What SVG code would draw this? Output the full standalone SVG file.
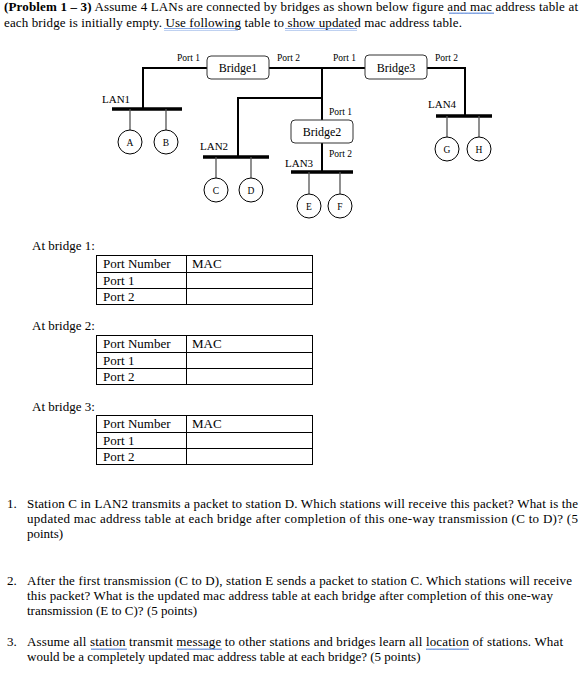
<svg xmlns="http://www.w3.org/2000/svg" width="584" height="675" viewBox="0 0 584 675" font-family="'Liberation Serif', 'DejaVu Serif', serif">
<style>
text{font-family:'Liberation Serif','DejaVu Serif',serif;fill:#000}
.t{font-size:13px}
.b{font-weight:bold}
.lbl{font-size:11px}
.prt{font-size:9.5px}
.br{font-size:12px}
.st{font-size:9.5px}
.wire{stroke:#000;stroke-width:2;fill:none}
.bus{stroke:#000;stroke-width:3.5;fill:none}
.stem{stroke:#555;stroke-width:1.3;fill:none}
.node{fill:#fff;stroke:#000;stroke-width:1}
.box{fill:#fff;stroke:#333;stroke-width:1}
.grid{stroke:#000;stroke-width:1;fill:none}
.wavy{stroke:#4a7bd6;stroke-width:0.8;fill:none}
</style>
<defs>
<pattern id="wv" width="4" height="3" patternUnits="userSpaceOnUse"><path d="M0 2 L1 0.5 L2 2 L3 0.5 L4 2" class="wavy"/></pattern>
</defs>
<rect width="584" height="675" fill="#fff"/>

<g id="title">
<text class="t" x="4" y="11" textLength="574" lengthAdjust="spacing"><tspan class="b">(Problem 1 – 3)</tspan> Assume 4 LANs are connected by bridges as shown below figure and mac address table at</text>
<text class="t" x="4" y="27" textLength="458" lengthAdjust="spacing">each bridge is initially empty. Use following table to show updated mac address table.</text>
<rect x="449" y="12" width="45" height="3" fill="url(#wv)"/>
<rect x="164" y="28" width="74" height="3" fill="url(#wv)"/>
<rect x="285" y="28" width="72" height="3" fill="url(#wv)"/>
</g>

<g id="connectors">
<path class="wire" d="M143 109 V68 H207 M269 68 H365 M427 68 H465 V116 M322 68 V120 M322 143 V172 M238 157 V98 H322"/>
<path class="bus" d="M112 109 H182 M203 157 H269 M291 172 H353 M436 116 H492"/>
<path class="stem" d="M130 109 V130 M166 109 V130 M216 157 V178 M251 157 V178 M309 172 V194 M340 172 V194 M447 116 V137 M479 116 V137"/>
</g>

<g id="bridge1">
<rect class="box" x="207" y="56" width="62" height="23" rx="4"/>
<text class="br" x="238" y="72" text-anchor="middle">Bridge1</text>
<text class="prt" x="177" y="61">Port 1</text>
<text class="prt" x="277" y="61">Port 2</text>
</g>
<g id="bridge3">
<rect class="box" x="365" y="55" width="62" height="24" rx="4"/>
<text class="br" x="396" y="72" text-anchor="middle">Bridge3</text>
<text class="prt" x="333" y="61">Port 1</text>
<text class="prt" x="435" y="61">Port 2</text>
</g>
<g id="bridge2">
<rect class="box" x="291" y="120" width="62" height="23" rx="4"/>
<text class="br" x="322" y="136" text-anchor="middle">Bridge2</text>
<text class="prt" x="329" y="115">Port 1</text>
<text class="prt" x="329" y="157">Port 2</text>
</g>

<g id="lan1"><text class="lbl" x="102" y="103">LAN1</text></g>
<g id="lan2"><text class="lbl" x="200" y="150">LAN2</text></g>
<g id="lan3"><text class="lbl" x="285" y="167">LAN3</text></g>
<g id="lan4"><text class="lbl" x="428" y="108">LAN4</text></g>

<g id="stA"><circle class="node" cx="130" cy="142" r="12"/><text class="st" x="130" y="145.5" text-anchor="middle">A</text></g>
<g id="stB"><circle class="node" cx="166" cy="142" r="12"/><text class="st" x="166" y="145.5" text-anchor="middle">B</text></g>
<g id="stC"><circle class="node" cx="216" cy="190" r="12"/><text class="st" x="216" y="193.5" text-anchor="middle">C</text></g>
<g id="stD"><circle class="node" cx="251" cy="190" r="12"/><text class="st" x="251" y="193.5" text-anchor="middle">D</text></g>
<g id="stE"><circle class="node" cx="309" cy="206" r="12"/><text class="st" x="309" y="209.5" text-anchor="middle">E</text></g>
<g id="stF"><circle class="node" cx="340" cy="206" r="12"/><text class="st" x="340" y="209.5" text-anchor="middle">F</text></g>
<g id="stG"><circle class="node" cx="447" cy="149" r="12"/><text class="st" x="447" y="152.5" text-anchor="middle">G</text></g>
<g id="stH"><circle class="node" cx="479" cy="149" r="12"/><text class="st" x="479" y="152.5" text-anchor="middle">H</text></g>

<g id="table1">
<text class="t" x="32" y="250">At bridge 1:</text>
<rect class="grid" x="96.5" y="255.5" width="216" height="49"/>
<path class="grid" d="M96.5 272.5 H312.5 M96.5 288.5 H312.5 M186.5 255.5 V304.5"/>
<text class="t" x="103" y="268">Port Number</text>
<text class="t" x="192" y="268">MAC</text>
<text class="t" x="103" y="284.5">Port 1</text>
<text class="t" x="103" y="300.5">Port 2</text>
</g>
<g id="table2">
<text class="t" x="32" y="330">At bridge 2:</text>
<rect class="grid" x="96.5" y="335.5" width="216" height="49"/>
<path class="grid" d="M96.5 352.5 H312.5 M96.5 368.5 H312.5 M186.5 335.5 V384.5"/>
<text class="t" x="103" y="348">Port Number</text>
<text class="t" x="192" y="348">MAC</text>
<text class="t" x="103" y="364.5">Port 1</text>
<text class="t" x="103" y="380.5">Port 2</text>
</g>
<g id="table3">
<text class="t" x="32" y="411">At bridge 3:</text>
<rect class="grid" x="96.5" y="415.5" width="216" height="49"/>
<path class="grid" d="M96.5 432.5 H312.5 M96.5 448.5 H312.5 M186.5 415.5 V464.5"/>
<text class="t" x="103" y="428">Port Number</text>
<text class="t" x="192" y="428">MAC</text>
<text class="t" x="103" y="444.5">Port 1</text>
<text class="t" x="103" y="460.5">Port 2</text>
</g>

<g id="questions">
<text class="t" x="7" y="508">1.</text>
<text class="t" x="27" y="508" textLength="551" lengthAdjust="spacing">Station C in LAN2 transmits a packet to station D. Which stations will receive this packet? What is the</text>
<text class="t" x="27" y="523" textLength="551" lengthAdjust="spacing">updated mac address table at each bridge after completion of this one-way transmission (C to D)? (5</text>
<text class="t" x="27" y="538">points)</text>
<text class="t" x="7" y="585">2.</text>
<text class="t" x="27" y="585" textLength="545" lengthAdjust="spacing">After the first transmission (C to D), station E sends a packet to station C. Which stations will receive</text>
<text class="t" x="27" y="600" textLength="526" lengthAdjust="spacing">this packet? What is the updated mac address table at each bridge after completion of this one-way</text>
<text class="t" x="27" y="615">transmission (E to C)? (5 points)</text>
<text class="t" x="7" y="646">3.</text>
<text class="t" x="27" y="646" textLength="536" lengthAdjust="spacing">Assume all station transmit message to other stations and bridges learn all location of stations. What</text>
<text class="t" x="27" y="661">would be a completely updated mac address table at each bridge? (5 points)</text>
<rect x="91" y="647" width="36" height="3" fill="url(#wv)"/>
<rect x="177" y="647" width="45" height="3" fill="url(#wv)"/>
<rect x="426" y="647" width="43" height="3" fill="url(#wv)"/>
</g>
</svg>
